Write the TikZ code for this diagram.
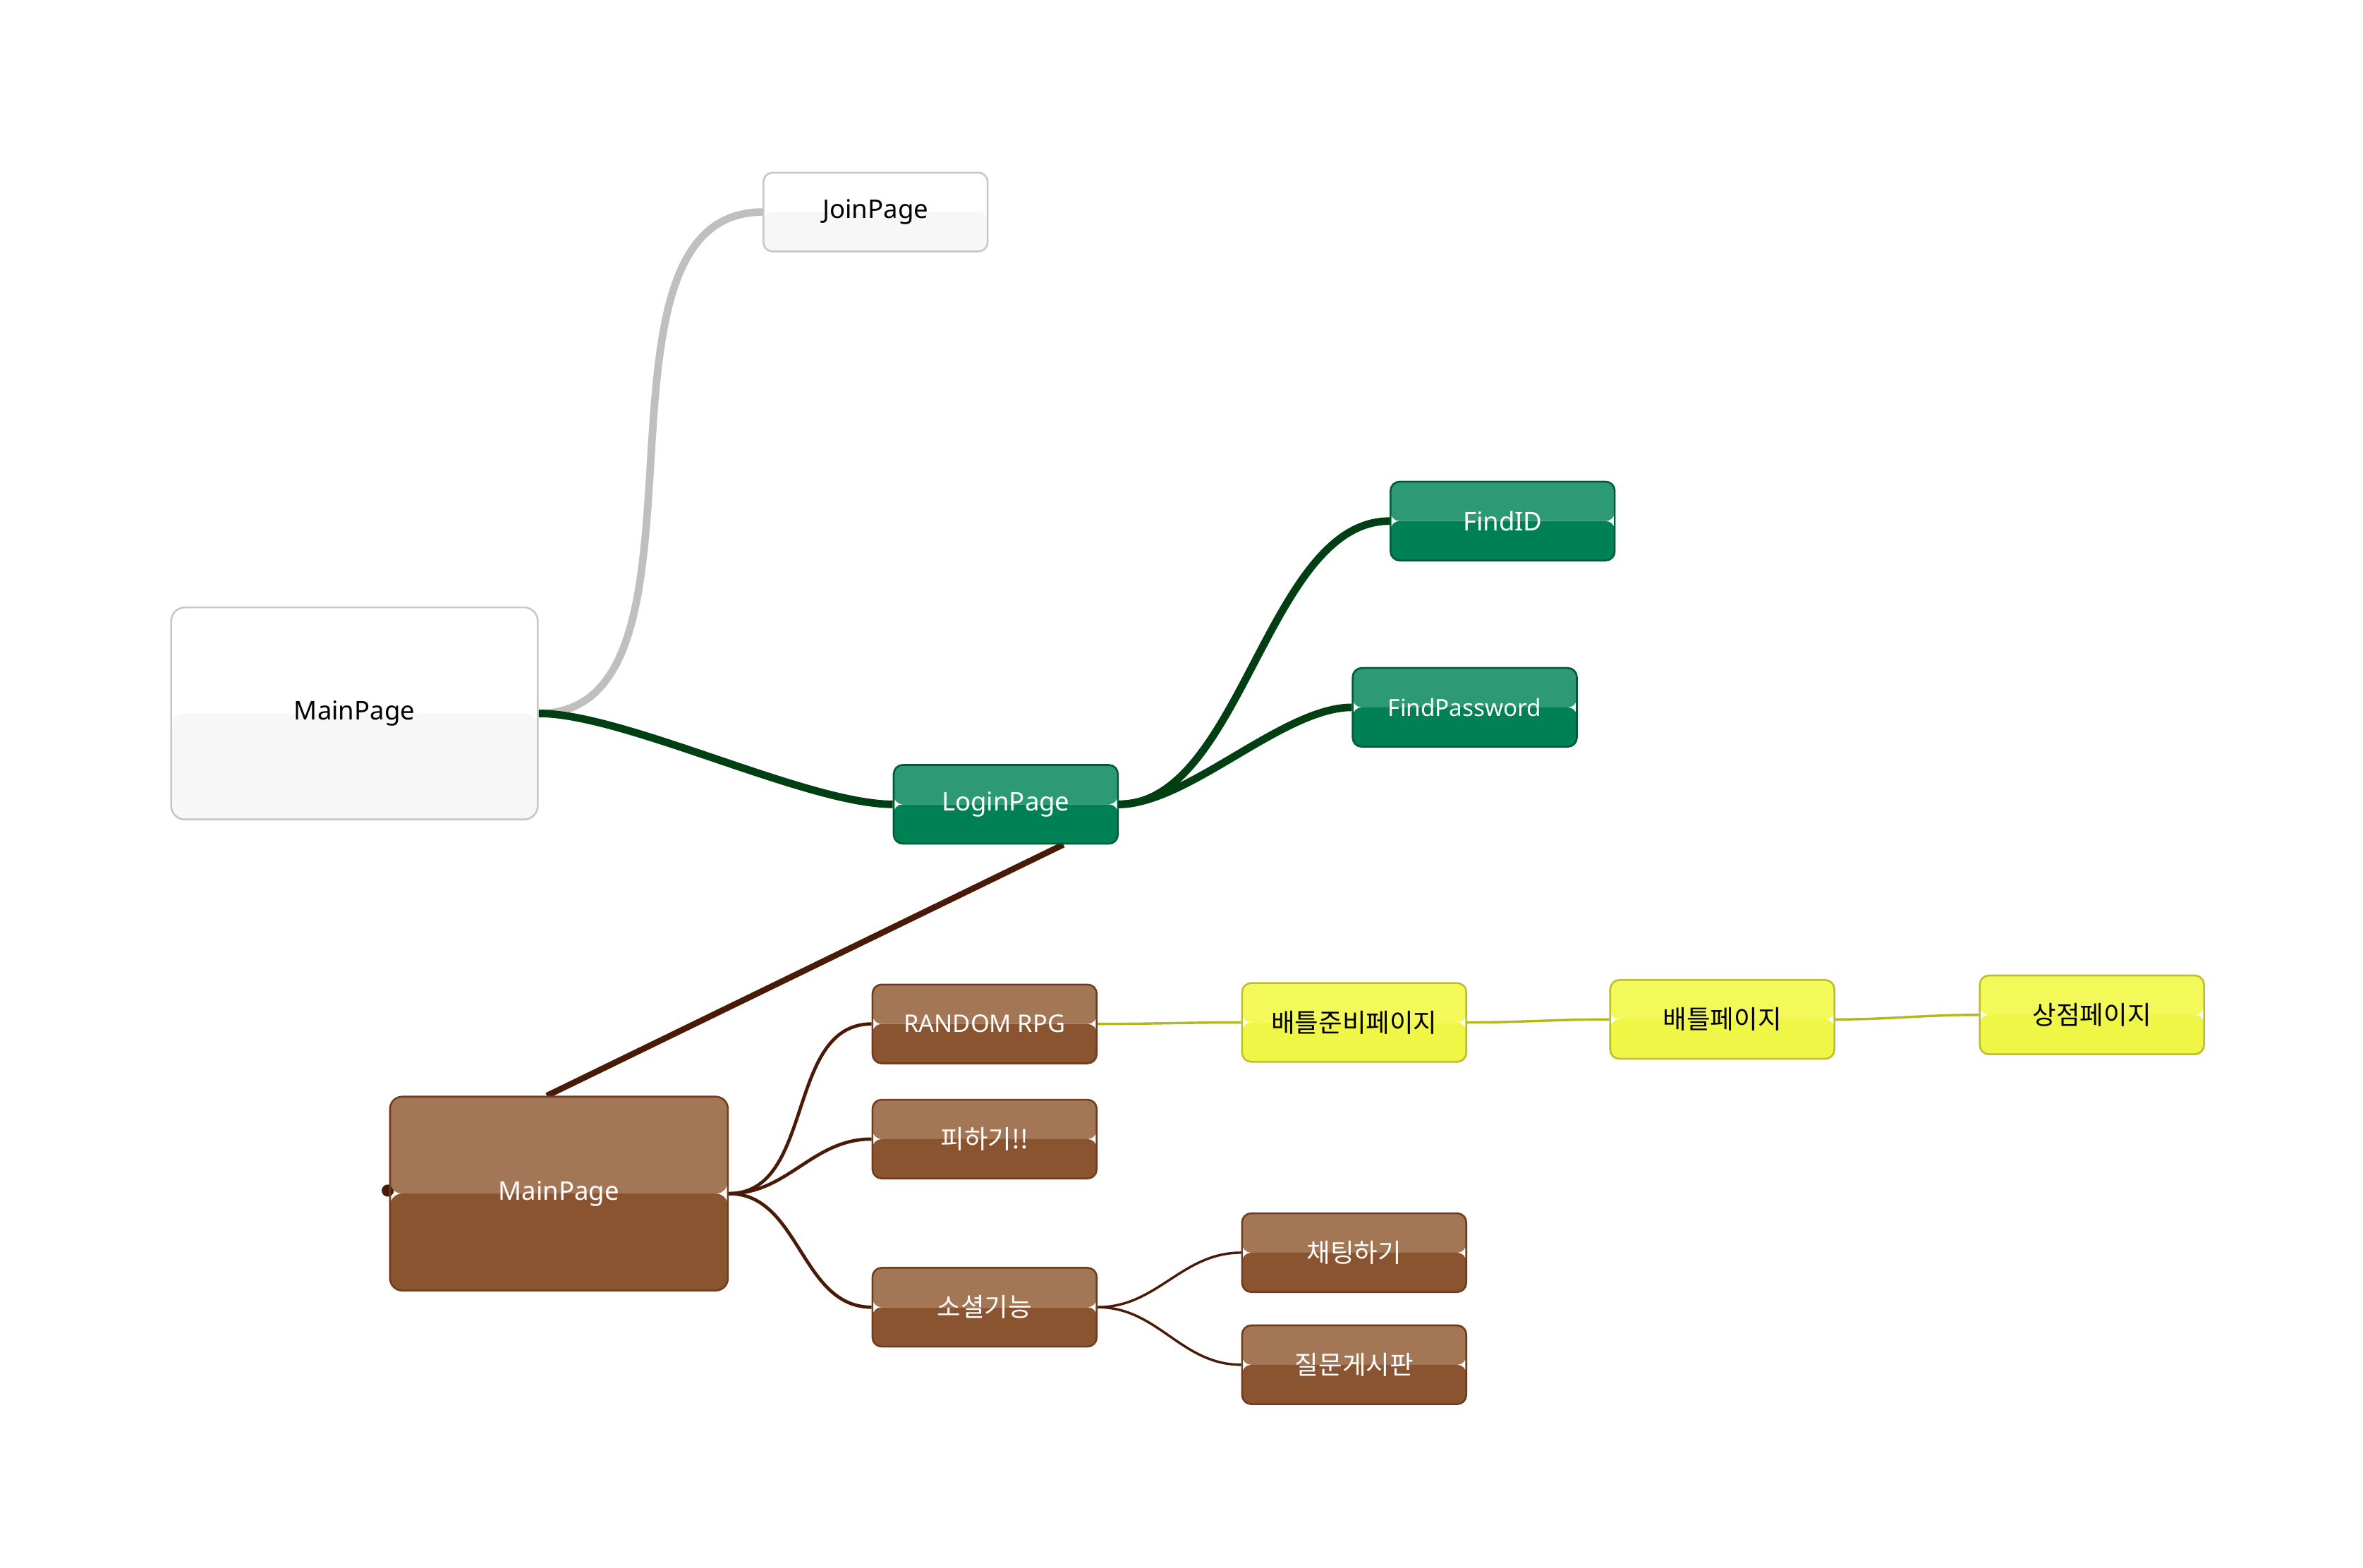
\documentclass[tikz,border=0pt]{standalone}
\usepackage{fontspec}
\setmainfont{Noto Sans}
\newfontfamily\kr{Noto Sans CJK KR}
\definecolor{gtop}{RGB}{46,154,117}
\definecolor{gbot}{RGB}{0,128,85}
\definecolor{gbrd}{RGB}{0,90,50}
\definecolor{btop}{RGB}{163,119,85}
\definecolor{bbot}{RGB}{139,84,48}
\definecolor{bbrd}{RGB}{110,60,30}
\definecolor{ytop}{RGB}{244,249,90}
\definecolor{ybot}{RGB}{240,246,70}
\definecolor{ybrd}{RGB}{189,190,46}
\definecolor{dgc}{RGB}{0,63,20}
\definecolor{bc}{RGB}{74,26,8}
\definecolor{yc}{RGB}{181,184,26}
\pgfdeclarelayer{bg}
\pgfsetlayers{bg,main}
\begin{document}
\begin{tikzpicture}[x=1pt,y=-1pt,
 nd/.style={rounded corners=6pt, minimum width=148pt, minimum height=52pt, line width=1.2pt, inner sep=0pt},
 twotone/.style 2 args={path picture={\fill[#1] (path picture bounding box.north west) rectangle (path picture bounding box.east);
   \fill[#2] (path picture bounding box.west) rectangle (path picture bounding box.south east);}},
 wht/.style={nd, draw=black!22, twotone={white}{black!3}, font=\fontsize{17}{20}\selectfont},
 grn/.style={nd, draw=gbrd, twotone={gtop}{gbot}, text=white, font=\fontsize{17}{20}\selectfont},
 brn/.style={nd, draw=bbrd, twotone={btop}{bbot}, text=white, font=\fontsize{17}{20}\selectfont\kr},
 ylw/.style={nd, draw=ybrd, twotone={ytop}{ybot}, font=\fontsize{17}{20}\selectfont\kr},
 gline/.style={line width=5pt, draw=black!25},
 dgline/.style={line width=5pt, draw=dgc},
 bline/.style={line width=4pt, draw=bc},
 tbline/.style={line width=2.2pt, draw=bc},
 yline/.style={line width=1.6pt, draw=yc}]
\useasboundingbox (0,0) rectangle (1560,1035);
\node[wht] (join) at (578,140) {JoinPage};
\node[wht, minimum width=242pt, minimum height=140pt, rounded corners=9pt] (main1) at (234,471) {MainPage};
\node[grn] (login) at (664,531) {LoginPage};
\node[grn] (fid) at (992,344) {FindID};
\node[grn, font=\fontsize{15.5}{18}\selectfont] (fpw) at (967,467) {FindPassword};
\node[brn, minimum width=223pt, minimum height=128pt, rounded corners=8pt, font=\fontsize{17}{20}\selectfont] (main2) at (369,788) {MainPage};
\node[brn, font=\fontsize{16}{20}\selectfont] (rpg) at (650,676) {RANDOM RPG};
\node[brn] (avoid) at (650,752) {피하기!!};
\node[brn] (social) at (650,863) {소셜기능};
\node[ylw] (ready) at (894,675) {배틀준비페이지};
\node[ylw] (battle) at (1137,673) {배틀페이지};
\node[ylw] (shop) at (1381,670) {상점페이지};
\node[brn] (chat) at (894,827) {채팅하기};
\node[brn] (qna) at (894,901) {질문게시판};
\coordinate (dot) at (256,786);
\begin{pgfonlayer}{bg}
\draw[gline] (main1.east) to[out=0,in=180,looseness=0.9] (join.west);
\draw[dgline] (main1.east) to[out=0,in=180,looseness=0.6] (login.west);
\draw[dgline] (login.east) to[out=0,in=180,looseness=0.8] (fid.west);
\draw[dgline] (login.east) to[out=0,in=180,looseness=0.7] (fpw.west);
\draw[bline] ([xshift=38pt]login.south) -- ([xshift=-8pt]main2.north);
\fill[bc] (dot) circle (4pt);
\draw[tbline] (main2.east) to[out=0,in=180] (rpg.west);
\draw[tbline] (main2.east) to[out=0,in=180] (avoid.west);
\draw[tbline] (main2.east) to[out=0,in=180] (social.west);
\draw[tbline, line width=1.6pt] (social.east) to[out=0,in=180] (chat.west);
\draw[tbline, line width=1.6pt] (social.east) to[out=0,in=180] (qna.west);
\draw[yline] (rpg.east) to[out=0,in=180] (ready.west);
\draw[yline] (ready.east) to[out=0,in=180] (battle.west);
\draw[yline] (battle.east) to[out=0,in=180] (shop.west);
\end{pgfonlayer}
\end{tikzpicture}
\end{document}
